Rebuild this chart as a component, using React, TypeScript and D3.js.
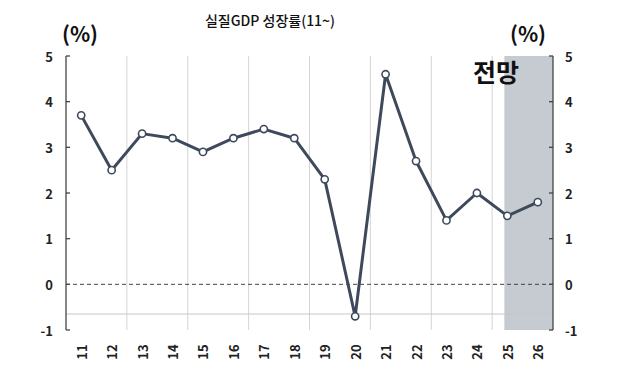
import React from "react";
import * as d3 from "d3";

const years = ["11","12","13","14","15","16","17","18","19","20","21","22","23","24","25","26"];
const growth = [3.7, 2.5, 3.3, 3.2, 2.9, 3.2, 3.4, 3.2, 2.3, -0.7, 4.6, 2.7, 1.4, 2.0, 1.5, 1.8];
const yTicks = [-1, 0, 1, 2, 3, 4, 5];
const title = "실질GDP 성장률(11~)";
const forecastLabel = "전망";
const forecastStart = "25";
const refLineValue = -0.65;

export default function App() {
  const W = 640, H = 376;
  const left = 66, right = 553, top = 56, bottom = 330;
  const x = d3.scaleBand<string>().domain(years).range([left, right]);
  const y = d3.scaleLinear().domain([-1, 5]).range([bottom, top]);
  const cx = (d: string) => (x(d) as number) + x.bandwidth() / 2;
  const line = d3.line<number>().x((_, i) => cx(years[i])).y((d) => y(d));
  const font = "'Noto Sans CJK KR', 'Noto Sans', sans-serif";
  const axisColor = "#444";
  const lineColor = "#3e4a5c";
  const gridIdx = years.map((_, i) => i).filter((i) => i > 0 && i % 2 === 0);
  const shadeX = cx(forecastStart) - 3;

  return (
    <svg width={W} height={H} style={{ position: "absolute", left: 0, top: 0, background: "#fff" }} fontFamily={font}>
      <rect x={0} y={0} width={W} height={H} fill="#fff" />
      <rect x={shadeX} y={top} width={right - shadeX} height={bottom - top} fill="#c6cad1" />
      {gridIdx.map((i) => (
        <line key={i} x1={x(years[i]) as number} x2={x(years[i]) as number} y1={top} y2={bottom} stroke="#d4d4d4" strokeWidth={1} />
      ))}
      <line x1={left} x2={right} y1={y(refLineValue)} y2={y(refLineValue)} stroke="#c8c8c8" strokeWidth={1} />
      <line x1={left} x2={right} y1={y(0)} y2={y(0)} stroke="#444" strokeWidth={1} strokeDasharray="4,3" />
      <line x1={left} x2={left} y1={top} y2={bottom} stroke={axisColor} strokeWidth={1.3} />
      <line x1={right} x2={right} y1={top} y2={bottom} stroke={axisColor} strokeWidth={1.3} />
      {yTicks.map((t) => (
        <g key={t}>
          <line x1={left} x2={left + 4} y1={y(t)} y2={y(t)} stroke={axisColor} strokeWidth={1.3} />
          <line x1={right - 4} x2={right} y1={y(t)} y2={y(t)} stroke={axisColor} strokeWidth={1.3} />
          <text x={53} y={y(t)} textAnchor="end" dominantBaseline="central" fontSize={13} fontWeight="bold" fill="#222">{t}</text>
          <text x={565} y={y(t)} textAnchor="start" dominantBaseline="central" fontSize={13} fontWeight="bold" fill="#222">{t}</text>
        </g>
      ))}
      {years.map((yr) => (
        <text key={yr} transform={`translate(${cx(yr)},352) rotate(-90)`} textAnchor="middle" dominantBaseline="central" fontSize={13} fontWeight="bold" fill="#222">{yr}</text>
      ))}
      <path d={line(growth) || ""} fill="none" stroke={lineColor} strokeWidth={3} strokeLinejoin="round" />
      {growth.map((v, i) => (
        <circle key={i} cx={cx(years[i])} cy={y(v)} r={3.6} fill="#fff" stroke={lineColor} strokeWidth={1.6} />
      ))}
      <text x={270} y={26} textAnchor="middle" fontSize={14} fontWeight={500} fill="#111">{title}</text>
      <text x={80} y={42} textAnchor="middle" fontSize={21} fontWeight="bold" fill="#111">(%)</text>
      <text x={528} y={42} textAnchor="middle" fontSize={21} fontWeight="bold" fill="#111">(%)</text>
      <text x={496} y={82} textAnchor="middle" fontSize={25} fontWeight="bold" fill="#111">{forecastLabel}</text>
    </svg>
  );
}
